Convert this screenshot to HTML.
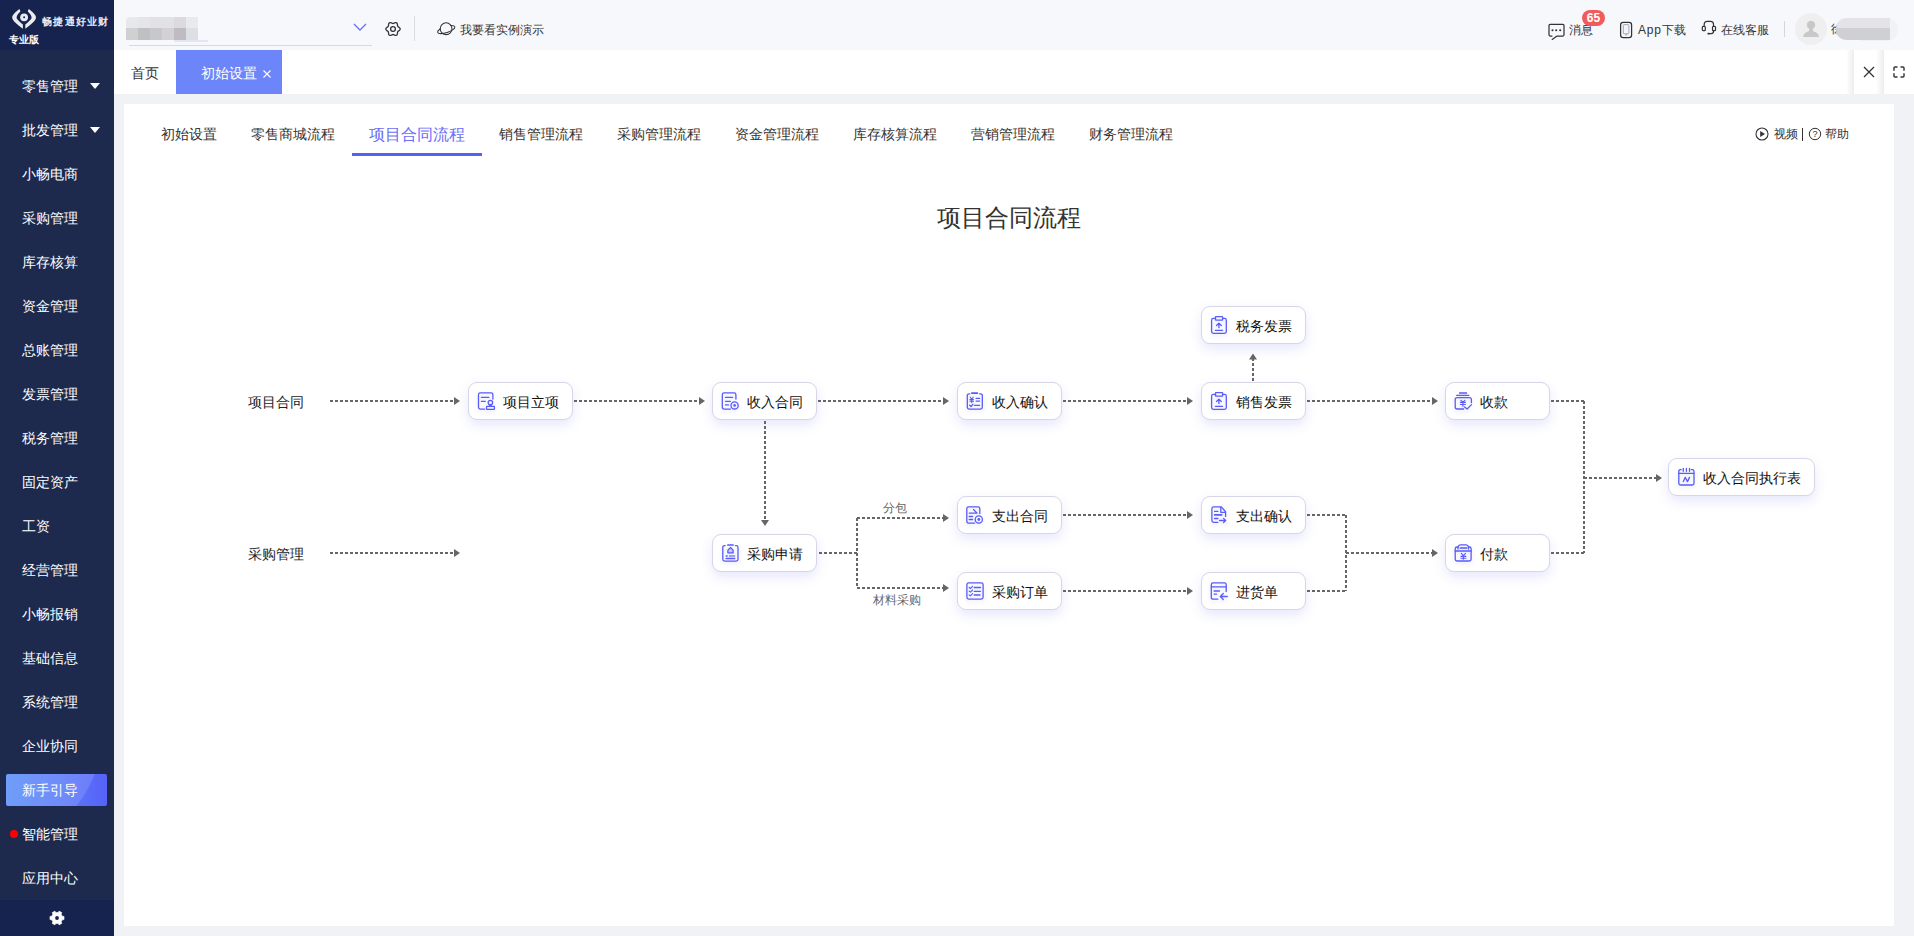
<!DOCTYPE html>
<html><head><meta charset="utf-8">
<style>
*{box-sizing:border-box;margin:0;padding:0}
html,body{width:1914px;height:936px;overflow:hidden;background:#f1f2f5;font-family:"Liberation Sans",sans-serif;font-size:14px;color:#333}
.abs{position:absolute}
#side{position:absolute;left:0;top:0;width:114px;height:936px;background:#1d2a4e}
#logo{position:absolute;left:0;top:0;width:114px;height:50px;background:#17234f}
#sbot{position:absolute;left:0;top:900px;width:114px;height:36px;background:#17234f}
.mi{position:absolute;left:22px;color:#fff;font-size:14px;line-height:20px;white-space:nowrap;font-weight:500}
.caret{position:absolute;left:90px;width:0;height:0;border-left:5px solid transparent;border-right:5px solid transparent;border-top:6px solid #fff}
#active{position:absolute;left:6px;top:774px;width:101px;height:32px;border-radius:2px;overflow:hidden;background:linear-gradient(90deg,#5a90f6 0%,#5a78f8 60%,#5662f8 100%)}
#hdr{position:absolute;left:114px;top:0;width:1800px;height:50px;background:#f7f8fc}
#tabs{position:absolute;left:114px;top:50px;width:1800px;height:44px;background:#fff}
#card{position:absolute;left:124px;top:104px;width:1770px;height:822px;background:#fff}
.t{position:absolute;white-space:nowrap;line-height:20px}
.node{position:absolute;height:38px;background:#fff;border:1px solid #d6d6e6;border-radius:9px;box-shadow:0 5px 12px rgba(95,95,240,0.15)}
.node .lb{position:absolute;left:34px;top:8.5px;font-size:14px;line-height:20px;color:#111;white-space:nowrap}
.node svg{position:absolute;left:4px;top:5px;filter:drop-shadow(0 2px 2px rgba(90,92,245,0.18))}
.it{position:absolute;top:124px;font-size:14px;line-height:20px;color:#333;white-space:nowrap}
</style></head><body>
<div id="side">
  <div id="logo">
    <svg class="abs" style="left:0;top:0" width="50" height="50">
      <g fill="#ebebef">
        <path d="M19.5,9 C15.5,12 12.2,15 12.2,17.5 C12.2,20.5 17.5,25 22.9,28.8 L22.9,24.5 C19.5,21.5 16.6,19.2 16.6,17.5 C16.6,15.6 18.4,13.4 20.4,11.6 Z"/>
        <path d="M28.7,9 C32.7,12 36,15 36,17.5 C36,20.5 30.7,25 25.3,28.8 L25.3,24.5 C28.7,21.5 31.6,19.2 31.6,17.5 C31.6,15.6 29.8,13.4 27.8,11.6 Z"/>
        <circle cx="24.1" cy="17.3" r="3.9"/>
      </g>
      <circle cx="24.1" cy="17.3" r="1" fill="#17234f"/>
    </svg>
    <div class="abs" style="left:42px;top:15px;font-size:10px;line-height:14px;color:#ececf2;letter-spacing:1.25px;font-weight:bold">畅捷通好业财</div>
    <div class="abs" style="left:9px;top:33px;font-size:10px;line-height:14px;color:#fff;font-weight:bold">专业版</div>
  </div>
  <div class="mi" style="top:76px">零售管理</div><div class="caret" style="top:83px"></div>
  <div class="mi" style="top:120px">批发管理</div><div class="caret" style="top:127px"></div>
  <div class="mi" style="top:164px">小畅电商</div>
  <div class="mi" style="top:208px">采购管理</div>
  <div class="mi" style="top:252px">库存核算</div>
  <div class="mi" style="top:296px">资金管理</div>
  <div class="mi" style="top:340px">总账管理</div>
  <div class="mi" style="top:384px">发票管理</div>
  <div class="mi" style="top:428px">税务管理</div>
  <div class="mi" style="top:472px">固定资产</div>
  <div class="mi" style="top:516px">工资</div>
  <div class="mi" style="top:560px">经营管理</div>
  <div class="mi" style="top:604px">小畅报销</div>
  <div class="mi" style="top:648px">基础信息</div>
  <div class="mi" style="top:692px">系统管理</div>
  <div class="mi" style="top:736px">企业协同</div>
  <div id="active"><div class="abs" style="left:-129px;top:-152px;width:225px;height:225px;border-radius:50%;background:rgba(255,255,255,0.13)"></div></div>
  <div class="mi" style="top:780px">新手引导</div>
  <div class="abs" style="left:10px;top:830px;width:8px;height:8px;border-radius:50%;background:#f00"></div>
  <div class="mi" style="top:824px">智能管理</div>
  <div class="mi" style="top:868px">应用中心</div>
  <div id="sbot">
    <svg class="abs" style="left:48px;top:9px" width="18" height="18" viewBox="0 0 18 18"><path fill="#fff" fill-rule="evenodd" stroke="#fff" stroke-width="0.6" stroke-linejoin="round" d="M13.85,6.20 L14.36,7.36 L16.02,7.38 L16.02,10.62 L14.36,10.64 L13.85,11.80 L13.10,12.82 L13.91,14.27 L11.11,15.89 L10.26,14.46 L9.00,14.60 L7.74,14.46 L6.89,15.89 L4.09,14.27 L4.90,12.82 L4.15,11.80 L3.64,10.64 L1.98,10.62 L1.98,7.38 L3.64,7.36 L4.15,6.20 L4.90,5.18 L4.09,3.73 L6.89,2.11 L7.74,3.54 L9.00,3.40 L10.26,3.54 L11.11,2.11 L13.91,3.73 L13.10,5.18 Z"/><circle cx="9" cy="9" r="1.9" fill="#17234f"/></svg>
  </div>
</div>

<div id="hdr"></div>
<!-- header left -->
<div class="abs" style="left:126px;top:17px;width:72px;height:23px">
  <div class="abs" style="left:0;top:0;width:12px;height:11px;background:#e8e8ea;border-top-left-radius:4px"></div>
  <div class="abs" style="left:12px;top:0;width:12px;height:11px;background:#e5e5e8"></div>
  <div class="abs" style="left:24px;top:0;width:24px;height:11px;background:#e2e2e5"></div>
  <div class="abs" style="left:48px;top:0;width:12px;height:11px;background:#dcdadf"></div>
  <div class="abs" style="left:60px;top:0;width:12px;height:11px;background:#e8eaec"></div>
  <div class="abs" style="left:0;top:11px;width:12px;height:12px;background:#cfd0d2"></div>
  <div class="abs" style="left:12px;top:11px;width:12px;height:12px;background:#bfc0c2"></div>
  <div class="abs" style="left:24px;top:11px;width:12px;height:12px;background:#c8c7cb"></div>
  <div class="abs" style="left:36px;top:11px;width:12px;height:12px;background:#d4d1d6"></div>
  <div class="abs" style="left:48px;top:11px;width:12px;height:12px;background:#bebcc1"></div>
  <div class="abs" style="left:60px;top:11px;width:12px;height:12px;background:#dde0e2"></div>
</div>
<div class="abs" style="left:174px;top:40px;width:34px;height:1.5px;background:#e2e4f8;border-radius:1px"></div>
<div class="abs" style="left:129px;top:45px;width:243px;height:1px;background:#d9d9dc"></div>
<svg class="abs" style="left:352px;top:21px" width="16" height="12"><path d="M2,3 L8,9 L14,3" fill="none" stroke="#6a70f0" stroke-width="1.3"/></svg>
<svg class="abs" style="left:384px;top:20px" width="18" height="18" viewBox="0 0 18 18"><path fill="none" stroke="#333" stroke-width="1.3" d="M16.15,9.00 L16.01,9.61 L15.62,10.17 L15.09,10.63 L14.52,11.01 L14.04,11.35 L13.72,11.72 L13.56,12.19 L13.50,12.78 L13.45,13.45 L13.32,14.15 L13.04,14.76 L12.58,15.19 L11.97,15.38 L11.30,15.32 L10.63,15.09 L10.02,14.79 L9.48,14.54 L9.00,14.45 L8.52,14.54 L7.98,14.79 L7.37,15.09 L6.70,15.32 L6.03,15.38 L5.43,15.19 L4.96,14.76 L4.68,14.15 L4.55,13.45 L4.50,12.78 L4.44,12.19 L4.28,11.73 L3.96,11.35 L3.48,11.01 L2.91,10.63 L2.38,10.17 L1.99,9.61 L1.85,9.00 L1.99,8.39 L2.38,7.83 L2.91,7.37 L3.48,6.99 L3.96,6.65 L4.28,6.27 L4.44,5.81 L4.50,5.22 L4.55,4.55 L4.68,3.85 L4.96,3.24 L5.42,2.81 L6.03,2.62 L6.70,2.68 L7.37,2.91 L7.98,3.21 L8.52,3.46 L9.00,3.55 L9.48,3.46 L10.02,3.21 L10.63,2.91 L11.30,2.68 L11.97,2.62 L12.57,2.81 L13.04,3.24 L13.32,3.85 L13.45,4.55 L13.50,5.22 L13.56,5.81 L13.72,6.28 L14.04,6.65 L14.52,6.99 L15.09,7.37 L15.62,7.83 L16.01,8.39 Z"/><circle cx="9" cy="9" r="2.4" fill="none" stroke="#333" stroke-width="1.3"/></svg>
<div class="abs" style="left:414px;top:16px;width:1px;height:25px;background:#dcdcdc"></div>
<svg class="abs" style="left:436px;top:20px" width="22" height="18" viewBox="0 0 22 18"><g fill="none" stroke="#333" stroke-width="1.05"><g transform="rotate(-18 10.1 9.2)"><ellipse cx="10.1" cy="9.6" rx="9" ry="3.1"/><path d="M4.2,9.6 A5.9,5.9 0 0 1 16,9.6 Z" fill="#f7f8fc" stroke="none"/></g><circle cx="10.1" cy="8.7" r="5.9"/></g></svg>
<div class="t" style="left:460px;top:20px;font-size:12px;color:#333">我要看实例演示</div>

<!-- header right -->
<svg class="abs" style="left:1547px;top:22px" width="19" height="19" viewBox="0 0 19 19"><path d="M5,14 H3.2 Q2,14 2,12.8 V3.5 Q2,2.3 3.2,2.3 H15.8 Q17,2.3 17,3.5 V12.8 Q17,14 15.8,14 H10 L5.2,17.4" fill="none" stroke="#333" stroke-width="1.25" stroke-linejoin="round" stroke-linecap="round"/><g fill="#333"><circle cx="5.5" cy="8.3" r="1.05"/><circle cx="9.2" cy="8.3" r="1.05"/><circle cx="13.2" cy="8.3" r="1.05"/></g></svg>
<div class="t" style="left:1569px;top:20px;font-size:12px;color:#333">消息</div>
<div class="abs" style="left:1582px;top:10px;width:23px;height:16px;border-radius:8px;background:#f25b5d;color:#fff;font-size:12px;line-height:16px;text-align:center;font-weight:bold">65</div>
<svg class="abs" style="left:1619px;top:21px" width="15" height="18" viewBox="0 0 15 18"><rect x="1.6" y="1.4" width="11" height="15.3" rx="2.6" fill="none" stroke="#333" stroke-width="1.25"/><rect x="4.3" y="3.6" width="5.6" height="9.2" rx="0.8" fill="#f3f3f8" stroke="#9a9ab8" stroke-width="0.9"/><rect x="6.2" y="13" width="2" height="1.6" fill="#b8b8c0"/></svg>
<div class="t" style="left:1638px;top:20px;font-size:12px;color:#333"><span style="letter-spacing:0.8px">App</span>下载</div>
<svg class="abs" style="left:1701px;top:20px" width="16" height="16" viewBox="0 0 16 16"><g fill="none" stroke="#333" stroke-width="1.2" stroke-linejoin="round"><path d="M3.2,6.3 V4.3 Q3.2,1.3 6.2,1.3 H9.5 Q12.5,1.3 12.5,4.3 V6.3"/><rect x="1.3" y="6.3" width="3" height="4.4" rx="0.9"/><rect x="11.5" y="6.3" width="3" height="4.4" rx="0.9"/><path d="M12.5,10.7 V11.3 Q12.5,13.6 10.2,13.6 H7.6"/></g><rect x="6.5" y="12.8" width="2" height="1.6" rx="0.5" fill="#333"/></svg>
<div class="t" style="left:1721px;top:20px;font-size:12px;color:#333">在线客服</div>
<div class="abs" style="left:1784px;top:21px;width:1px;height:16px;background:#d6d6d6"></div>
<div class="abs" style="left:1795px;top:13px;width:32px;height:32px;border-radius:50%;background:#efeff0"></div>
<svg class="abs" style="left:1795px;top:13px" width="32" height="32"><g fill="#c8c8ca"><circle cx="16" cy="12" r="4.2"/><path d="M8,24 Q8.5,19.5 13.5,18.5 L14.5,16 H17.5 L18.5,18.5 Q23.5,19.5 24,24 Z"/></g></svg>
<div class="t" style="left:1831px;top:19px;font-size:12px;color:#333">徐</div>
<div class="abs" style="left:1860px;top:18px;width:38px;height:23px;border-radius:0 12px 12px 0;background:#f2f2f5"></div>
<div class="abs" style="left:1836px;top:18px;width:54px;height:22px;border-radius:10px 0 0 10px;overflow:hidden">
  <div class="abs" style="left:0;top:0;width:54px;height:10px;background:#e4e4e7"></div>
  <div class="abs" style="left:0;top:10px;width:54px;height:12px;background:#d0d0d4"></div>
</div>

<div id="tabs"></div>
<div class="t" style="left:131px;top:63px;font-size:14px;color:#333">首页</div>
<div class="abs" style="left:176px;top:50px;width:106px;height:44px;background:#6c86fa"></div>
<div class="t" style="left:201px;top:63px;font-size:14px;color:#fff">初始设置</div>
<svg class="abs" style="left:262px;top:69px" width="10" height="10"><path d="M1.5,1.5 L8.5,8.5 M8.5,1.5 L1.5,8.5" stroke="#fff" stroke-width="1.1"/></svg>
<div class="abs" style="left:1846px;top:50px;width:8px;height:44px;background:linear-gradient(90deg,rgba(0,0,0,0),rgba(0,0,0,0.07))"></div>
<div class="abs" style="left:1876px;top:50px;width:8px;height:44px;background:linear-gradient(90deg,rgba(0,0,0,0),rgba(0,0,0,0.07))"></div>
<svg class="abs" style="left:1862px;top:65px" width="14" height="14"><path d="M2,2 L12,12 M12,2 L2,12" stroke="#333" stroke-width="1.3"/></svg>
<svg class="abs" style="left:1892px;top:65px" width="14" height="14"><path d="M2,5.2 V3 Q2,2 3,2 H5 M9,2 H11 Q12,2 12,3 V5.2 M12,8.8 V11 Q12,12 11,12 H9 M5,12 H3 Q2,12 2,11 V8.8" fill="none" stroke="#333" stroke-width="1.4" stroke-linecap="round"/></svg>

<div id="card"></div>
<div class="it" style="left:161px">初始设置</div>
<div class="it" style="left:251px">零售商城流程</div>
<div class="it" style="left:369px;top:124px;font-size:16px;line-height:22px;color:#6a6ef5">项目合同流程</div>
<div class="abs" style="left:352px;top:153px;width:130px;height:3px;background:#5462f0"></div>
<div class="it" style="left:499px">销售管理流程</div>
<div class="it" style="left:617px">采购管理流程</div>
<div class="it" style="left:735px">资金管理流程</div>
<div class="it" style="left:853px">库存核算流程</div>
<div class="it" style="left:971px">营销管理流程</div>
<div class="it" style="left:1089px">财务管理流程</div>

<svg class="abs" style="left:1754px;top:126px" width="16" height="16"><circle cx="8" cy="8" r="6" fill="none" stroke="#333" stroke-width="1.1"/><path d="M6.2,5 L11,8 L6.2,11 Z" fill="#333"/></svg>
<div class="t" style="left:1774px;top:124px;font-size:12px;color:#333">视频</div>
<div class="abs" style="left:1802px;top:128px;width:1px;height:13px;background:#333"></div>
<svg class="abs" style="left:1807px;top:126px" width="16" height="16"><circle cx="8" cy="8" r="5.7" fill="none" stroke="#333" stroke-width="1"/><text x="8" y="11.2" font-size="9" text-anchor="middle" fill="#333" font-family="Liberation Sans">?</text></svg>
<div class="t" style="left:1825px;top:124px;font-size:12px;color:#333">帮助</div>

<div class="t" style="left:937px;top:203px;font-size:24px;line-height:30px;color:#333">项目合同流程</div>

<div class="t" style="left:248px;top:392px;font-size:14px;color:#222">项目合同</div>
<div class="t" style="left:248px;top:544px;font-size:14px;color:#222">采购管理</div>
<div class="t" style="left:883px;top:498px;font-size:12px;color:#666">分包</div>
<div class="t" style="left:873px;top:590px;font-size:12px;color:#666">材料采购</div>

<svg class="abs" style="left:0;top:0" width="1914" height="936"><g fill="none" stroke="#666" stroke-width="2" stroke-dasharray="3 2"><path d="M330,401 H454"/><path d="M330,553 H454"/><path d="M574,401 H699"/><path d="M818,401 H943"/><path d="M1063,401 H1187"/><path d="M1307,401 H1432"/><path d="M1253,381 V359"/><path d="M765,421 V520"/><path d="M819,553 H857"/><path d="M857,518 V588"/><path d="M857,518 H943"/><path d="M857,588 H943"/><path d="M1063,515 H1187"/><path d="M1063,591 H1187"/><path d="M1307,515 H1346"/><path d="M1307,591 H1346"/><path d="M1346,515 V591"/><path d="M1346,553 H1432"/><path d="M1551,401 H1584"/><path d="M1551,553 H1584"/><path d="M1584,401 V553"/><path d="M1584,478 H1656"/></g><g fill="#666" stroke="none"><path d="M454,397 L460,401 L454,405 Z"/><path d="M454,549 L460,553 L454,557 Z"/><path d="M699,397 L705,401 L699,405 Z"/><path d="M943,397 L949,401 L943,405 Z"/><path d="M1187,397 L1193,401 L1187,405 Z"/><path d="M1432,397 L1438,401 L1432,405 Z"/><path d="M1249,359.5 L1253,353.5 L1257,359.5 Z"/><path d="M761,520 L765,526 L769,520 Z"/><path d="M943,514 L949,518 L943,522 Z"/><path d="M943,584 L949,588 L943,592 Z"/><path d="M1187,511 L1193,515 L1187,519 Z"/><path d="M1187,587 L1193,591 L1187,595 Z"/><path d="M1432,549 L1438,553 L1432,557 Z"/><path d="M1656,474 L1662,478 L1656,482 Z"/></g></svg>
<div class="node" style="left:468px;top:382px;width:105px"><svg width="30" height="26" viewBox="0 0 30 26" fill="none" stroke="#5a5cf5" stroke-width="1.3" stroke-linecap="round" stroke-linejoin="round"><path d="M11.7,21.1 H7.3 Q5.5,21.1 5.5,19.3 V6.7 Q5.5,4.9 7.3,4.9 H18.1 Q19.9,4.9 19.9,6.7 V11"/><path d="M8.4,9.4 H15.9 M8.4,13.3 H12.3"/><circle cx="17.4" cy="14.6" r="2.2"/><path d="M16.8,16.6 L16.6,18.4 M18,16.6 L18.2,18.4"/><rect x="13.5" y="18.4" width="7.9" height="3" rx="0.4"/></svg><span class="lb">项目立项</span></div>
<div class="node" style="left:712px;top:382px;width:105px"><svg width="30" height="26" viewBox="0 0 30 26" fill="none" stroke="#5a5cf5" stroke-width="1.3" stroke-linecap="round" stroke-linejoin="round"><path d="M13.5,21.1 H7.1 Q5.3,21.1 5.3,19.3 V6.7 Q5.3,4.9 7.1,4.9 H17.1 Q18.9,4.9 18.9,6.7 V11.1"/><path d="M8.5,9.4 H15.6 M8.5,13.3 H13.4 M8.5,16.9 H11.5"/><circle cx="17.6" cy="17.4" r="3.6"/><circle cx="17.6" cy="17.4" r="1.3" fill="#5a5cf5" stroke="none"/></svg><span class="lb">收入合同</span></div>
<div class="node" style="left:957px;top:382px;width:105px"><svg width="30" height="26" viewBox="0 0 30 26" fill="none" stroke="#5a5cf5" stroke-width="1.3" stroke-linecap="round" stroke-linejoin="round"><path d="M7.8,5.8 H7.1 Q5.3,5.8 5.3,7.6 V19.3 Q5.3,21.1 7.1,21.1 H18.5 Q20.3,21.1 20.3,19.3 V7.6 Q20.3,5.8 18.5,5.8 H17.6"/><rect x="9.1" y="4.3" width="7" height="1.6" rx="0.5" fill="#5a5cf5" stroke="none"/><path d="M8.3,9.2 L9.7,11.3 L11.2,9.2 M7.9,11.6 H11.5 M7.9,13.2 H11.5 M9.7,11.3 V14.6" stroke-width="1.1"/><path d="M14.1,10.4 H17.6 M14.1,13.1 H17.6 M12.5,17.4 H17.6"/><path d="M7.6,17.2 L9.1,18.5 L10.9,16.3"/></svg><span class="lb">收入确认</span></div>
<div class="node" style="left:1201px;top:382px;width:105px"><svg width="30" height="26" viewBox="0 0 30 26" fill="none" stroke="#5a5cf5" stroke-width="1.3" stroke-linecap="round" stroke-linejoin="round"><path d="M9.5,6.4 H7.4 Q5.6,6.4 5.6,8.2 V19.6 Q5.6,21.4 7.4,21.4 H18.5 Q20.3,21.4 20.3,19.6 V8.2 Q20.3,6.4 18.5,6.4 H16.6"/><rect x="9.5" y="4.6" width="7.1" height="3.6" rx="0.5"/><path d="M12.9,11.2 V15.5 M10.5,13.5 L12.9,11.1 L15.3,13.5 M9.3,18.3 H16.6"/></svg><span class="lb">销售发票</span></div>
<div class="node" style="left:1201px;top:306px;width:105px"><svg width="30" height="26" viewBox="0 0 30 26" fill="none" stroke="#5a5cf5" stroke-width="1.3" stroke-linecap="round" stroke-linejoin="round"><path d="M9.5,6.4 H7.4 Q5.6,6.4 5.6,8.2 V19.6 Q5.6,21.4 7.4,21.4 H18.5 Q20.3,21.4 20.3,19.6 V8.2 Q20.3,6.4 18.5,6.4 H16.6"/><rect x="9.5" y="4.6" width="7.1" height="3.6" rx="0.5"/><path d="M12.9,11.2 V15.5 M10.5,13.5 L12.9,11.1 L15.3,13.5 M9.3,18.3 H16.6"/></svg><span class="lb">税务发票</span></div>
<div class="node" style="left:1445px;top:382px;width:105px"><svg width="30" height="26" viewBox="0 0 30 26" fill="none" stroke="#5a5cf5" stroke-width="1.3" stroke-linecap="round" stroke-linejoin="round"><rect x="9" y="4.2" width="8.1" height="1.6" rx="0.4" fill="#5a5cf5" stroke="none"/><path d="M6.7,7.4 H18.8"/><path d="M13.7,21 H7.2 Q5.2,21 5.2,19 V11.6 Q5.2,9.6 7.2,9.6 H19.4 Q21.4,9.6 21.4,11.6 V14.7"/><path d="M14.5,19 L17.1,21 L21.5,16.6"/><path d="M10.9,12.3 L12.9,14.2 L14.9,12.3 M10.4,14.4 H15.4 M10.4,16.5 H15.4 M12.9,14.2 V18.3" stroke-width="1.1"/></svg><span class="lb">收款</span></div>
<div class="node" style="left:712px;top:534px;width:105px"><svg width="30" height="26" viewBox="0 0 30 26" fill="none" stroke="#5a5cf5" stroke-width="1.3" stroke-linecap="round" stroke-linejoin="round"><path d="M8.2,5.6 H7.6 Q5.8,5.6 5.8,7.4 V19.3 Q5.8,21.1 7.6,21.1 H19.2 Q21,21.1 21,19.3 V7.4 Q21,5.6 19.2,5.6 H18.4"/><rect x="10.1" y="4.2" width="6.7" height="1.6" rx="0.5" fill="#5a5cf5" stroke="none"/><path d="M10.9,12.9 V10.1 L13.5,7.5 L16.1,10.1 V12.9 Z" fill="#c9cafb"/><path d="M9.2,16 H10.2" stroke-width="1.4"/><path d="M12.4,16 H17.7" stroke="#8486f7" stroke-width="1.4"/><path d="M9,18.5 H17.8"/></svg><span class="lb">采购申请</span></div>
<div class="node" style="left:957px;top:496px;width:105px"><svg width="30" height="26" viewBox="0 0 30 26" fill="none" stroke="#5a5cf5" stroke-width="1.3" stroke-linecap="round" stroke-linejoin="round"><path d="M12.6,21.1 H6.6 Q4.8,21.1 4.8,19.3 V6.7 Q4.8,4.9 6.6,4.9 H16 Q17.8,4.9 17.8,6.7 V11.5"/><path d="M7.2,11.1 H15.1 L11.5,7.5 M7.2,14.5 H10.6 M7.2,17.5 H10.6"/><circle cx="16.8" cy="17.5" r="3.6"/><circle cx="16.8" cy="17.5" r="1.4" fill="#5a5cf5" stroke="none"/></svg><span class="lb">支出合同</span></div>
<div class="node" style="left:1201px;top:496px;width:105px"><svg width="30" height="26" viewBox="0 0 30 26" fill="none" stroke="#5a5cf5" stroke-width="1.3" stroke-linecap="round" stroke-linejoin="round"><path d="M11.9,20.3 H7.7 Q5.9,20.3 5.9,18.5 V6.7 Q5.9,4.9 7.7,4.9 H15.3 L19.6,9.8 V14.4"/><path d="M14.8,5.2 V10.3 H19.4"/><path d="M8.6,9.4 H11.9 M8.6,16.5 H11.9"/><path d="M8.6,12.9 H15.7" stroke-width="1.6"/><path d="M13.5,18.5 H19.6 M17.5,16.4 L19.7,18.5 L17.5,20.6"/></svg><span class="lb">支出确认</span></div>
<div class="node" style="left:957px;top:572px;width:105px"><svg width="30" height="26" viewBox="0 0 30 26" fill="none" stroke="#5a5cf5" stroke-width="1.3" stroke-linecap="round" stroke-linejoin="round"><rect x="4.9" y="4.9" width="16.2" height="16.2" rx="1.8"/><path d="M7.1,9.4 L8.4,10.5 L10.6,8.3 M7.1,13.1 L8.4,14.2 L10.6,12 M7.1,16.8 L8.4,17.9 L10.6,15.7" stroke-width="1.1"/><path d="M12.2,9.5 H18.5 M12.2,13.3 H18.5 M12.2,17 H18"/></svg><span class="lb">采购订单</span></div>
<div class="node" style="left:1201px;top:572px;width:105px"><svg width="30" height="26" viewBox="0 0 30 26" fill="none" stroke="#5a5cf5" stroke-width="1.3" stroke-linecap="round" stroke-linejoin="round"><path d="M11.8,21.2 H7.1 Q5.3,21.2 5.3,19.4 V6.7 Q5.3,4.9 7.1,4.9 H18.4 Q20.2,4.9 20.2,6.7 V13.5"/><path d="M5.3,8.9 H20.2 M8.1,13 H13.5 M8.1,16.1 H10.6"/><path d="M14.4,18.5 H21.3 M17.3,15.5 L14.3,18.5 L17.3,21.5"/></svg><span class="lb">进货单</span></div>
<div class="node" style="left:1445px;top:534px;width:105px"><svg width="30" height="26" viewBox="0 0 30 26" fill="none" stroke="#5a5cf5" stroke-width="1.3" stroke-linecap="round" stroke-linejoin="round"><path d="M5.2,19.2 V8.8 Q5.2,7 7,7 H8 Q8.6,4.9 10.3,4.9 H16.2 Q17.9,4.9 18.5,7 H19.3 Q21.1,7 21.1,8.8 V19.2 Q21.1,21 19.3,21 H7 Q5.2,21 5.2,19.2 Z"/><path d="M5.2,11 H21.1 M8,7 V9 M18.5,7 V9"/><path d="M10.2,8.1 H16.8" stroke-width="1.5"/><path d="M11.3,13.3 L13.4,15.6 L15.5,13.3 M10.9,16.4 H15.9 M10.9,18.2 H15.9 M13.4,15.6 V19.3" stroke-width="1.1"/></svg><span class="lb">付款</span></div>
<div class="node" style="left:1668px;top:458px;width:147px"><svg width="30" height="26" viewBox="0 0 30 26" fill="none" stroke="#5a5cf5" stroke-width="1.3" stroke-linecap="round" stroke-linejoin="round"><path d="M8.2,5.6 H7.6 Q5.8,5.6 5.8,7.4 V19.2 Q5.8,21 7.6,21 H19.2 Q21,21 21,19.2 V7.4 Q21,5.6 19.2,5.6 H18.2"/><path d="M10.3,4.3 V7.3 M13.4,4.3 V7.3 M16.5,4.3 V7.3 M5.8,9.4 H21 M10.3,17.6 L12.2,13.4 L14.5,17.6 L16.5,13.4"/></svg><span class="lb">收入合同执行表</span></div>
</body></html>
